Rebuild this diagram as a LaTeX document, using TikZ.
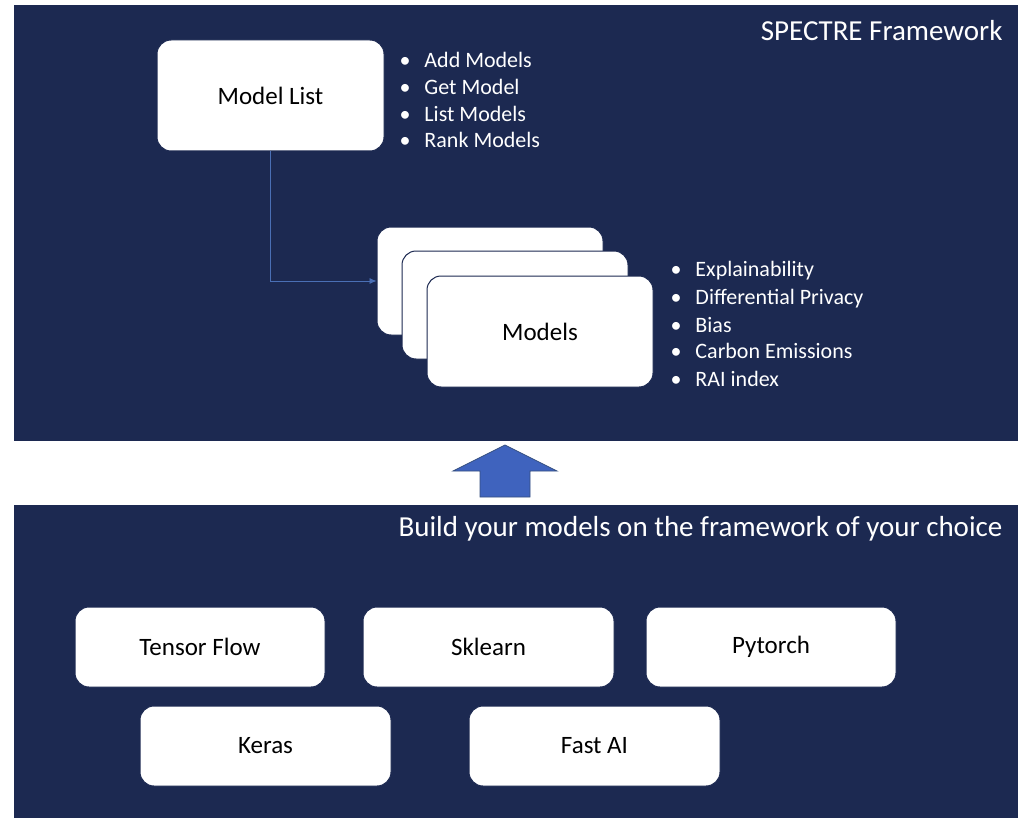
\documentclass[tikz,border=0pt]{standalone}
\usepackage{fontspec}
\setmainfont{Carlito}
\usetikzlibrary{arrows.meta}
\definecolor{navy}{HTML}{1C2951}
\definecolor{conn}{HTML}{4A6FB5}
\definecolor{arrowblue}{HTML}{3F63BE}
\tikzset{
 panel/.style={fill=navy,draw=none},
 wbox/.style={draw=navy,line width=1pt,fill=white,rounded corners=14pt,font=\fontsize{25}{28}\selectfont},
 bul/.style={text=white,anchor=west,font=\fontsize{22}{24}\selectfont},
 ttl/.style={text=white,anchor=east,font=\fontsize{29}{32}\selectfont}
}
\begin{document}
\begin{tikzpicture}[x=1pt,y=-1pt]
\useasboundingbox (0,0) rectangle (1020,824);
\fill[white] (0,0) rectangle (1020,824);
\fill[panel] (14,5) rectangle (1018,441);
\fill[panel] (14,505) rectangle (1018,818);
\node[ttl] (t1) at (1006,31) {SPECTRE Framework};
\node[ttl] (t2) at (1006,529) {Build your models on the framework of your choice};
\node[wbox,minimum width=227pt,minimum height=111pt] (ml) at (270.5,95.5) {Model List};
\foreach \t/\y [count=\i] in {Add Models/60,Get Model/87,List Models/114,Rank Models/140}
  \node[bul] (b\i) at (396,\y) {\textbullet\hspace{14pt}\t};
\node[wbox,minimum width=226pt,minimum height=108pt] (m1) at (490,281) {};
\node[wbox,minimum width=226pt,minimum height=108pt] (m2) at (515,305) {};
\node[wbox,minimum width=226pt,minimum height=111pt] (m3) at (540,331.5) {Models};
\foreach \t/\y [count=\i] in {Explainability/271,Differential Privacy/299,Bias/325,Carbon Emissions/351,RAI index/379}
  \node[bul] (c\i) at (667,\y) {\textbullet\hspace{14pt}\t};
\draw[conn,line width=0.8pt,-{Latex[length=7pt,width=6pt]}] (ml.south) |- (m1.west);
\draw[fill=arrowblue,draw=conn!70!black,line width=0.8pt] (480,497) -- (480,471) -- (453,471) -- (505,445) -- (557,471) -- (530,471) -- (530,497) -- cycle;
\node[wbox,minimum width=250pt,minimum height=80pt] (tf) at (200,647) {Tensor Flow};
\node[wbox,minimum width=251pt,minimum height=80pt] (sk) at (488.5,647) {Sklearn};
\node[wbox,minimum width=250pt,minimum height=80pt] (pt) at (771,647) {Pytorch};
\node[wbox,minimum width=251pt,minimum height=80pt] (ke) at (265.5,746) {Keras};
\node[wbox,minimum width=251pt,minimum height=80pt] (fa) at (594.5,746) {Fast AI};
\end{tikzpicture}
\end{document}
